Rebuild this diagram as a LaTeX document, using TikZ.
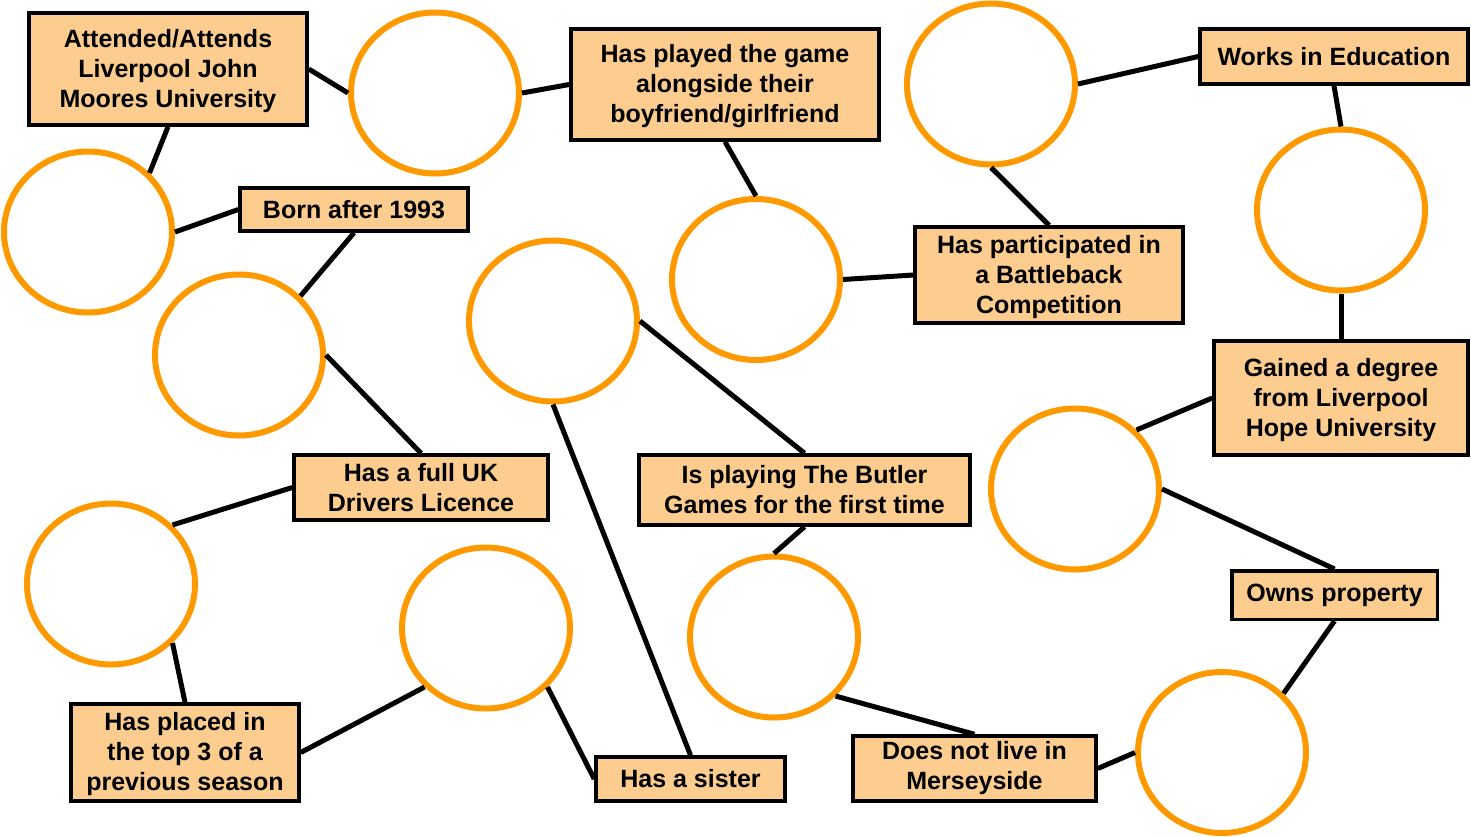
\documentclass[tikz,border=0pt]{standalone}
\usepackage{fontspec}
\setmainfont{Liberation Sans}
\usepackage{xcolor}
\usetikzlibrary{shapes, positioning}
\definecolor{peach}{RGB}{252,205,143}
\definecolor{ringorange}{RGB}{255,153,0}

\begin{document}
\begin{tikzpicture}[x=1pt, y=-1pt,
	fact/.style={draw=black, line width=3.5pt, fill=peach, align=center, inner sep=0pt, font=\fontsize{25}{30}\selectfont\bfseries},
	threeline/.style={text height=82pt},
	blank/.style={ellipse, draw=ringorange, line width=6pt, fill=white, minimum width=168pt, minimum height=161pt, inner sep=0pt},
	link/.style={line width=5pt, black}]
	\useasboundingbox (0, 0) rectangle (1471, 836);
	\node[fact, threeline, minimum width=278pt, minimum height=112pt] (attend) at (168, 69) {Attended/Attends\\Liverpool John\\Moores University};
	\node[fact, threeline, minimum width=308pt, minimum height=111pt] (played) at (725, 84.5) {Has played the game\\alongside their\\boyfriend/girlfriend};
	\node[fact, minimum width=268pt, minimum height=55pt] (works) at (1334, 56.5) {Works in Education};
	\node[fact, minimum width=228pt, minimum height=43pt] (born) at (354, 209.5) {Born after 1993};
	\node[fact, threeline, minimum width=268pt, minimum height=96pt] (battle) at (1049, 275) {Has participated in\\a Battleback\\Competition};
	\node[fact, threeline, minimum width=254pt, minimum height=114pt] (degree) at (1341, 398) {Gained a degree\\from Liverpool\\Hope University};
	\node[fact, minimum width=254pt, minimum height=65pt] (licence) at (421, 487.5) {Has a full UK\\Drivers Licence};
	\node[fact, minimum width=331pt, minimum height=70pt] (butler) at (804.5, 490) {Is playing The Butler\\Games for the first time};
	\node[fact, minimum width=205.5pt, minimum height=48.5pt] (owns) at (1334.5, 595) {Owns property};
	\node[fact, threeline, minimum width=228pt, minimum height=97pt] (placed) at (185, 752.5) {Has placed in\\the top 3 of a\\previous season};
	\node[fact, minimum width=189pt, minimum height=44pt] (sister) at (690.5, 779) {Has a sister};
	\node[fact, minimum width=243pt, minimum height=65pt] (mersey) at (974.5, 768.5) {Does not live in\\Merseyside};

	\node[blank] (c1) at (435, 93) {};
	\node[blank] (c2) at (88, 232) {};
	\node[blank] (c3) at (239, 355) {};
	\node[blank] (c4) at (553, 321) {};
	\node[blank] (c5) at (756, 279.5) {};
	\node[blank] (c6) at (991, 84) {};
	\node[blank] (c7) at (1341, 210) {};
	\node[blank] (c8) at (1075, 489) {};
	\node[blank] (c9) at (111, 584) {};
	\node[blank] (c10) at (486, 628) {};
	\node[blank] (c11) at (774, 637) {};
	\node[blank] (c12) at (1222, 752.5) {};

	\draw[link] (attend.east) -- (c1.west);
	\draw[link] (c1.east) -- (played.west);
	\draw[link] (c2.north east) -- (attend.south);
	\draw[link] (c2.east) -- (born.west);
	\draw[link] (born.south) -- (c3.north east);
	\draw[link] (c3.east) -- (licence.north);
	\draw[link] (licence.west) -- (c9.north east);
	\draw[link] (c9.south east) -- (placed.north);
	\draw[link] (placed.east) -- (c10.south west);
	\draw[link] (c10.south east) -- (sister.west);
	\draw[link] (c4.south) -- (sister.north);
	\draw[link] (c4.east) -- (butler.north);
	\draw[link] (butler.south) -- (c11.north);
	\draw[link] (c11.south east) -- (mersey.north);
	\draw[link] (mersey.east) -- (c12.west);
	\draw[link] (c12.north east) -- (owns.south);
	\draw[link] (owns.north) -- (c8.east);
	\draw[link] (c8.north east) -- (degree.west);
	\draw[link] (degree.north) -- (c7.south);
	\draw[link] (c7.north) -- (works.south);
	\draw[link] (works.west) -- (c6.east);
	\draw[link] (c6.south) -- (battle.north);
	\draw[link] (battle.west) -- (c5.east);
	\draw[link] (c5.north) -- (played.south);
\end{tikzpicture}
\end{document}
